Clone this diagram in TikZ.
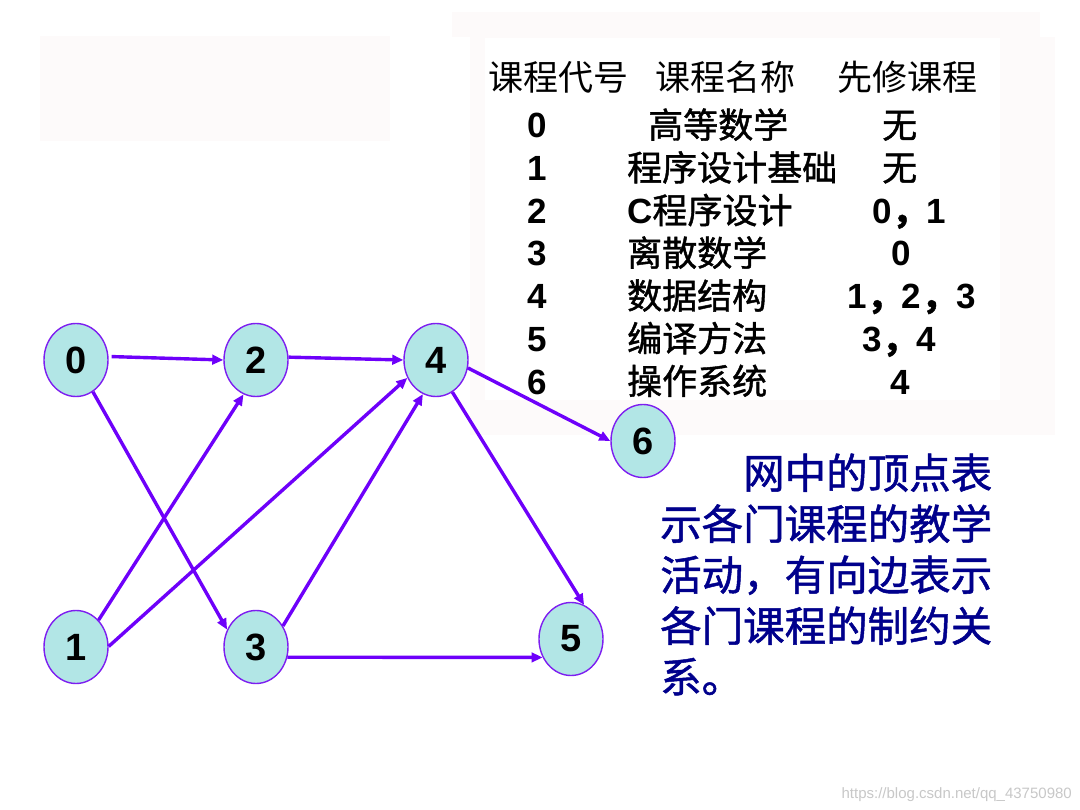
\documentclass[tikz,border=0pt]{standalone}
\usepackage{fontspec}
\setmainfont{Liberation Sans}
\newfontfamily\cjk{Noto Sans CJK SC}
\newfontfamily\cjkb[FakeBold=1.2]{Noto Sans CJK SC}
\usetikzlibrary{shapes.geometric,arrows.meta}
\definecolor{nodefill}{RGB}{178,230,230}
\definecolor{nodeline}{RGB}{125,30,240}
\definecolor{edgecol}{RGB}{110,0,250}
\definecolor{navy}{RGB}{0,0,140}
\definecolor{faint}{RGB}{253,250,250}
\definecolor{wmark}{RGB}{200,200,200}
\begin{document}
\begin{tikzpicture}[x=1pt,y=-1pt,
  vertex/.style={ellipse,draw=nodeline,line width=1.4pt,fill=nodefill,
    minimum width=64pt,minimum height=73pt,inner sep=0pt,
    font=\fontsize{38}{38}\selectfont\bfseries},
  edge/.style={draw=edgecol,line width=3.4pt,-{Triangle[length=11pt,width=9.5pt]}},
  hdr/.style={anchor=base west,inner sep=0pt,font=\fontsize{35}{35}\selectfont\cjk},
  cell/.style={anchor=base west,inner sep=0pt,font=\fontsize{35}{35}\selectfont\cjkb},
  num/.style={anchor=base,inner sep=0pt,font=\fontsize{35}{35}\selectfont\bfseries},
  note/.style={anchor=base west,inner sep=0pt,text=navy,font=\fontsize{41.5}{41.5}\selectfont\cjkb},
]
\useasboundingbox[fill=white] (0,0) rectangle (1080,810);
% faint background panels
\fill[faint] (40,36) rectangle (390,141);
\fill[faint] (452,12) rectangle (1040,37);
\fill[faint] (470,37) rectangle (1055,435);
\fill[white] (485,38) rectangle (1000,400);

% table
\node[hdr] (h1) at (488,90.5) {课程代号};
\node[hdr] (h2) at (655,90.5) {课程名称};
\node[hdr] (h3) at (837,90.5) {先修课程};

\node[num] (c0) at (537,138) {0};
\node[num] (c1) at (537,180.7) {1};
\node[num] (c2) at (537,223.4) {2};
\node[num] (c3) at (537,266) {3};
\node[num] (c4) at (537,308.8) {4};
\node[num] (c5) at (537,351.5) {5};
\node[num] (c6) at (537,394.2) {6};

\node[cell] (m0) at (648,138) {高等数学};
\node[cell] (m1) at (627,180.7) {程序设计基础};
\node[cell] (m2) at (627,223.4) {{\fontspec{Liberation Sans}\bfseries C}程序设计};
\node[cell] (m3) at (627,266) {离散数学};
\node[cell] (m4) at (627,308.8) {数据结构};
\node[cell] (m5) at (627,351.5) {编译方法};
\node[cell] (m6) at (627,394.2) {操作系统};

\node[cell] (p0) at (882,138) {无};
\node[cell] (p1) at (882,180.7) {无};
\node[num,anchor=base west] (p2) at (872,223.4) {0{\cjkb ，}1};
\node[num] (p3) at (901,266) {0};
\node[num,anchor=base west] (p4) at (847,308.8) {1{\cjkb ，}2{\cjkb ，}3};
\node[num,anchor=base west] (p5) at (862,351.5) {3{\cjkb ，}4};
\node[num] (p6) at (900,394.2) {4};

% graph nodes
\node[vertex] (n0) at (76,360) {0};
\node[vertex] (n2) at (256,360) {2};
\node[vertex] (n4) at (436,360) {4};
\node[vertex] (n1) at (76,647) {1};
\node[vertex] (n3) at (256,647) {3};
\node[vertex] (n5) at (571,639) {5};
\node[vertex] (n6) at (643,441) {6};

% edges
\draw[edge] ([xshift=3pt]n0.6) -- (n2.180);
\draw[edge] (n2.5) -- (n4.180);
\draw[edge] (n0.-62) -- (n3.149);
\draw[edge] (n1.50) -- (n2.250);
\draw[edge] (n1.1) -- (n4.212);
\draw[edge] (n3.38) -- (n4.249);
\draw[edge] (n3.-18) -- (n5.213);
\draw[edge] (n4.-14) -- (n6.180);
\draw[edge] (n4.-63) -- (n5.69);

% note text
\node[note] (t1) at (743,488.5) {网中的顶点表};
\node[note] (t2) at (660,539.5) {示各门课程的教学};
\node[note] (t3) at (660,590.5) {活动，有向边表示};
\node[note] (t4) at (660,641.5) {各门课程的制约关};
\node[note] (t5) at (660,692.5) {系。};

% watermark
\node[anchor=base east,inner sep=0pt,text=wmark,font=\fontsize{15}{15}\selectfont] (wm) at (1072,798) {https://blog.csdn.net/qq\_43750980};
\end{tikzpicture}
\end{document}
